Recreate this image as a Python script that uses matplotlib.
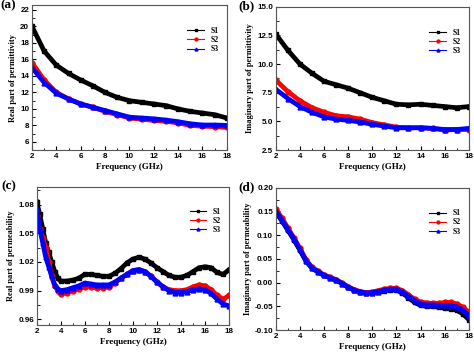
import matplotlib
matplotlib.use('Agg')
import matplotlib.pyplot as plt
import numpy as np
from matplotlib.ticker import AutoMinorLocator

# --- data ---
f1 = [2, 3, 4, 5, 6, 7, 8, 9, 10, 11, 12, 13, 14, 15, 16, 17, 18]
a_s1 = [20.0, 17.0, 15.3, 14.3, 13.5, 12.8, 12.0, 11.4, 11.0, 10.8, 10.6, 10.4, 10.0, 9.7, 9.5, 9.3, 8.9]
a_s2 = [15.6, 13.5, 12.0, 11.2, 10.6, 10.2, 9.7, 9.3, 8.9, 8.75, 8.6, 8.5, 8.3, 8.0, 7.9, 7.85, 7.75]
a_s3 = [15.0, 13.2, 11.9, 11.2, 10.6, 10.2, 9.8, 9.4, 9.0, 8.9, 8.8, 8.65, 8.45, 8.2, 8.05, 8.05, 8.0]

b_s1 = [12.6, 11.2, 10.0, 9.2, 8.5, 8.2, 7.9, 7.5, 7.1, 6.8, 6.5, 6.45, 6.5, 6.4, 6.3, 6.2, 6.3]
b_s2 = [8.6, 7.6, 6.8, 6.2, 5.8, 5.5, 5.4, 5.2, 4.9, 4.7, 4.5, 4.45, 4.45, 4.4, 4.25, 4.3, 4.3]
b_s3 = [7.8, 7.0, 6.3, 5.8, 5.4, 5.2, 5.1, 4.95, 4.75, 4.6, 4.45, 4.45, 4.45, 4.4, 4.3, 4.3, 4.4]

f2 = [2.0, 2.25, 2.5, 2.75, 3.0, 3.25, 3.5, 3.75, 4.0, 4.5, 5.0, 5.5, 6.0, 6.5, 7.0, 7.5, 8.0, 8.5, 9.0,
      9.5, 10.0, 10.5, 11.0, 11.5, 12.0, 12.5, 13.0, 13.5, 14.0, 14.5, 15.0, 15.5, 16.0, 16.5, 17.0, 17.5, 18.0]
c_s1 = [1.083, 1.07, 1.055, 1.04, 1.03, 1.02, 1.01, 1.003, 1.0, 1.0, 1.001, 1.003, 1.007, 1.007, 1.006, 1.005,
        1.005, 1.008, 1.013, 1.019, 1.023, 1.025, 1.023, 1.019, 1.014, 1.010, 1.006, 1.004, 1.004, 1.006, 1.010,
        1.014, 1.015, 1.014, 1.009, 1.007, 1.012]
c_s2 = [1.068, 1.055, 1.045, 1.035, 1.02, 1.005, 0.995, 0.99, 0.986, 0.988, 0.990, 0.992, 0.994, 0.994, 0.993,
        0.993, 0.994, 0.998, 1.003, 1.007, 1.011, 1.012, 1.010, 1.005, 0.999, 0.994, 0.991, 0.990, 0.990, 0.991,
        0.994, 0.996, 0.995, 0.991, 0.985, 0.981, 0.985]
c_s3 = [1.075, 1.055, 1.04, 1.025, 1.015, 1.005, 0.996, 0.992, 0.990, 0.991, 0.993, 0.995, 0.998, 0.997, 0.996,
        0.996, 0.996, 0.999, 1.003, 1.007, 1.011, 1.012, 1.010, 1.005, 0.999, 0.994, 0.990, 0.988, 0.988, 0.989,
        0.991, 0.992, 0.991, 0.987, 0.981, 0.976, 0.974]

f3 = [2.0, 2.5, 3.0, 3.5, 4.0, 4.5, 5.0, 5.5, 6.0, 6.5, 7.0, 7.5, 8.0, 8.5, 9.0, 9.5, 10.0, 10.5, 11.0,
      11.5, 12.0, 12.5, 13.0, 13.5, 14.0, 14.5, 15.0, 15.5, 16.0, 16.5, 17.0, 17.5, 18.0]
d_s1 = [0.148, 0.13, 0.11, 0.09, 0.068, 0.045, 0.030, 0.022, 0.015, 0.010, 0.005, -0.002, -0.010, -0.016, -0.020,
        -0.022, -0.022, -0.020, -0.017, -0.015, -0.016, -0.022, -0.032, -0.042, -0.048, -0.050, -0.050, -0.052,
        -0.054, -0.056, -0.058, -0.066, -0.078]
d_s2 = [0.155, 0.136, 0.115, 0.094, 0.072, 0.048, 0.032, 0.024, 0.016, 0.011, 0.006, -0.001, -0.009, -0.015, -0.019,
        -0.021, -0.020, -0.017, -0.014, -0.012, -0.012, -0.017, -0.026, -0.035, -0.041, -0.043, -0.044, -0.044,
        -0.042, -0.042, -0.045, -0.052, -0.062]
d_s3 = [0.150, 0.132, 0.112, 0.092, 0.070, 0.046, 0.031, 0.023, 0.015, 0.010, 0.005, -0.002, -0.010, -0.016, -0.020,
        -0.022, -0.021, -0.019, -0.016, -0.014, -0.014, -0.020, -0.029, -0.038, -0.045, -0.047, -0.047, -0.048,
        -0.048, -0.049, -0.051, -0.058, -0.070]

labels = ['S1', 'S2', 'S3']
colors = ['black', 'red', 'blue']
markers = ['s', 'o', '^']

serif = 'Liberation Serif'
sans = 'Liberation Sans'

fig = plt.figure(figsize=(4.74, 3.55), dpi=100)

# rect, x, series, ylim, yticks, fmt, ylabel, tag, tag x offset (axes fraction)
panels = [
    ([0.0675, 0.577, 0.411, 0.409], f1, [a_s1, a_s2, a_s3], (5, 22.6), np.arange(6, 23, 2), '%d',
     'Real part of permittivity', '(a)', -0.16),
    ([0.582, 0.577, 0.407, 0.404], f1, [b_s1, b_s2, b_s3], (2.5, 15.0), np.arange(2.5, 15.1, 2.5), '%.1f',
     'Imaginary part of permittivity', '(b)', -0.195),
    ([0.0774, 0.0845, 0.406, 0.39], f2, [c_s1, c_s2, c_s3], (0.954, 1.099), [0.96, 0.99, 1.02, 1.05, 1.08], '%.2f',
     'Real part of permeability', '(c)', -0.185),
    ([0.582, 0.0704, 0.407, 0.401], f3, [d_s1, d_s2, d_s3], (-0.10, 0.20), np.arange(-0.10, 0.21, 0.05), '%.2f',
     'Imaginary part of permeability', '(d)', -0.195),
]

for rect, fx, series, ylim, yt, fmt, ylab, tag, tx in panels:
    ax = fig.add_axes(rect)
    for ys, lab, c, m in zip(series, labels, colors, markers):
        ax.plot(fx, ys, color=c, lw=3.4, marker=m, ms=3.5, label=lab)
    ax.set_xlim(2, 18)
    ax.set_ylim(*ylim)
    ax.set_xticks(range(2, 19, 2))
    ax.set_yticks(yt)
    ax.set_yticklabels([fmt % v for v in yt])
    ax.xaxis.set_minor_locator(AutoMinorLocator(2))
    ax.yaxis.set_minor_locator(AutoMinorLocator(2))
    ax.tick_params(which='both', direction='in', top=False, right=False, pad=2)
    ax.tick_params(which='major', length=3, labelsize=5.8)
    ax.tick_params(which='minor', length=1.8)
    for lbl in ax.get_xticklabels() + ax.get_yticklabels():
        lbl.set_fontweight('bold')
        lbl.set_family(sans)
    for sp in ax.spines.values():
        sp.set_color('#555555')
        sp.set_linewidth(0.8)
    ax.set_xlabel('Frequency (GHz)', family=serif, fontweight='bold', fontsize=6.5, labelpad=2)
    ax.set_ylabel(ylab, family=serif, fontweight='bold', fontsize=6.0, labelpad=2)
    leg = ax.legend(loc='upper right', bbox_to_anchor=(0.98, 0.88), frameon=False, handlelength=2.2,
                    labelspacing=0.15, markerscale=0.6, borderaxespad=0.2,
                    prop={'family': serif, 'weight': 'bold', 'size': 5.5})
    for h in leg.get_lines():
        h.set_linewidth(0.8)
    ax.text(tx, 1.0, tag, transform=ax.transAxes, family=serif, fontweight='bold', fontsize=9.5,
            va='center', ha='left')

fig.savefig('out.png', dpi=100)
